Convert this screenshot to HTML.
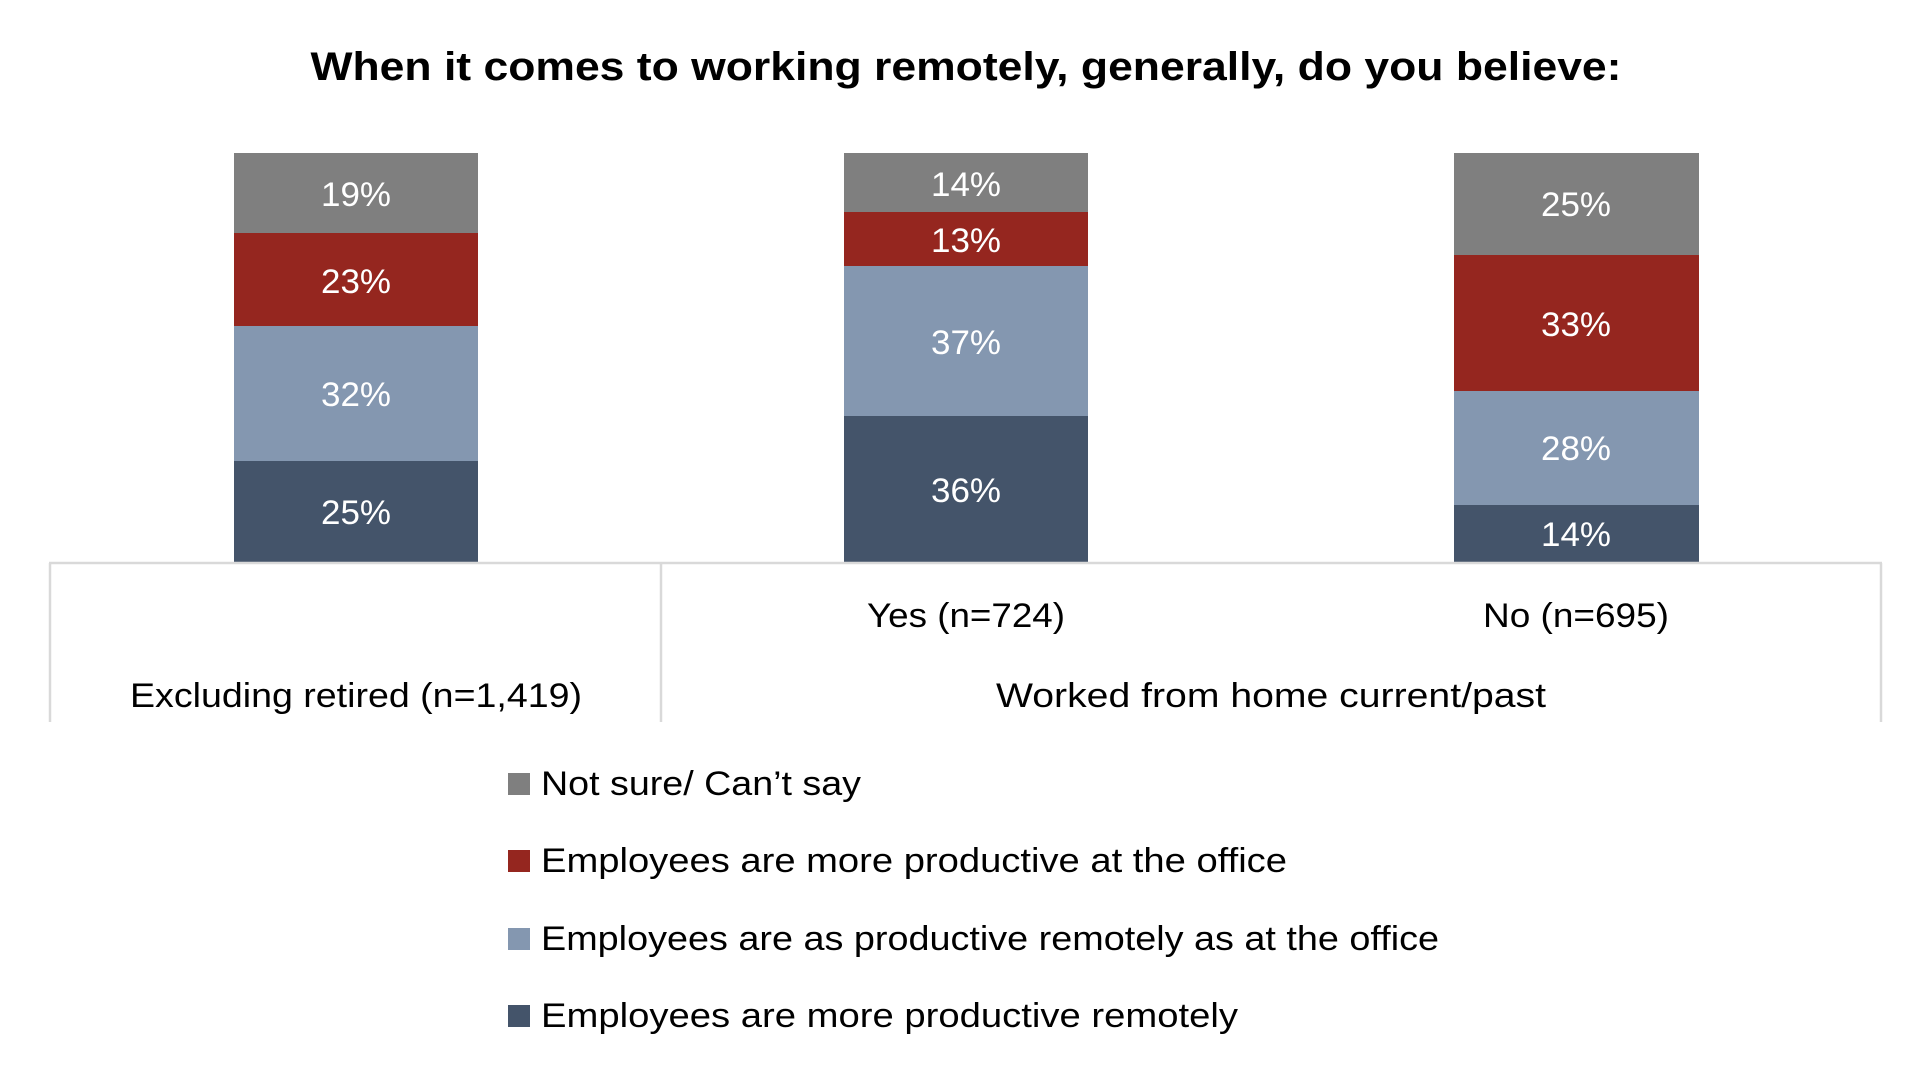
<!DOCTYPE html>
<html><head><meta charset="utf-8"><style>
html,body{margin:0;padding:0;background:#fff;}
svg{display:block;font-family:"Liberation Sans",sans-serif;}
</style></head><body>
<svg width="1932" height="1076" viewBox="0 0 1932 1076">
<text x="966" y="80" text-anchor="middle" font-size="40" font-weight="bold" fill="#000" textLength="1311" lengthAdjust="spacingAndGlyphs">When it comes to working remotely, generally, do you believe:</text>
<!-- bar 1 -->
<rect x="234" y="153" width="244" height="80" fill="#7f7f7f"/>
<rect x="234" y="233" width="244" height="93" fill="#95261f"/>
<rect x="234" y="326" width="244" height="135" fill="#8497b0"/>
<rect x="234" y="461" width="244" height="101" fill="#44546a"/>
<!-- bar 2 -->
<rect x="844" y="153" width="244" height="59" fill="#7f7f7f"/>
<rect x="844" y="212" width="244" height="54" fill="#95261f"/>
<rect x="844" y="266" width="244" height="150" fill="#8497b0"/>
<rect x="844" y="416" width="244" height="146" fill="#44546a"/>
<!-- bar 3 -->
<rect x="1454" y="153" width="245" height="102" fill="#7f7f7f"/>
<rect x="1454" y="255" width="245" height="136" fill="#95261f"/>
<rect x="1454" y="391" width="245" height="114" fill="#8497b0"/>
<rect x="1454" y="505" width="245" height="57" fill="#44546a"/>
<g fill="#fff" font-size="34" text-anchor="middle">
<text x="356" y="206" textLength="70" lengthAdjust="spacingAndGlyphs">19%</text>
<text x="356" y="293" textLength="70" lengthAdjust="spacingAndGlyphs">23%</text>
<text x="356" y="406" textLength="70" lengthAdjust="spacingAndGlyphs">32%</text>
<text x="356" y="524" textLength="70" lengthAdjust="spacingAndGlyphs">25%</text>
<text x="966" y="196" textLength="70" lengthAdjust="spacingAndGlyphs">14%</text>
<text x="966" y="252" textLength="70" lengthAdjust="spacingAndGlyphs">13%</text>
<text x="966" y="354" textLength="70" lengthAdjust="spacingAndGlyphs">37%</text>
<text x="966" y="502" textLength="70" lengthAdjust="spacingAndGlyphs">36%</text>
<text x="1576" y="216" textLength="70" lengthAdjust="spacingAndGlyphs">25%</text>
<text x="1576" y="336" textLength="70" lengthAdjust="spacingAndGlyphs">33%</text>
<text x="1576" y="460" textLength="70" lengthAdjust="spacingAndGlyphs">28%</text>
<text x="1576" y="546" textLength="70" lengthAdjust="spacingAndGlyphs">14%</text>
</g>
<g stroke="#d9d9d9" stroke-width="2.5">
<line x1="49" y1="563" x2="1882" y2="563"/>
<line x1="50" y1="563" x2="50" y2="722"/>
<line x1="661" y1="563" x2="661" y2="722"/>
<line x1="1881" y1="563" x2="1881" y2="722"/>
</g>
<g fill="#000" font-size="34" text-anchor="middle">
<text x="966" y="627" textLength="198" lengthAdjust="spacingAndGlyphs">Yes (n=724)</text>
<text x="1576" y="627" textLength="186" lengthAdjust="spacingAndGlyphs">No (n=695)</text>
<text x="356" y="707" textLength="452" lengthAdjust="spacingAndGlyphs">Excluding retired (n=1,419)</text>
<text x="1271" y="707" textLength="550" lengthAdjust="spacingAndGlyphs">Worked from home current/past</text>
</g>
<rect x="508" y="773" width="22" height="22" fill="#7f7f7f"/>
<rect x="508" y="850" width="22" height="22" fill="#95261f"/>
<rect x="508" y="928" width="22" height="22" fill="#8497b0"/>
<rect x="508" y="1005" width="22" height="22" fill="#44546a"/>
<g fill="#000" font-size="34">
<text x="541" y="795" textLength="320" lengthAdjust="spacingAndGlyphs">Not sure/ Can’t say</text>
<text x="541" y="872" textLength="746" lengthAdjust="spacingAndGlyphs">Employees are more productive at the office</text>
<text x="541" y="950" textLength="898" lengthAdjust="spacingAndGlyphs">Employees are as productive remotely as at the office</text>
<text x="541" y="1027" textLength="697" lengthAdjust="spacingAndGlyphs">Employees are more productive remotely</text>
</g>
</svg>
</body></html>
